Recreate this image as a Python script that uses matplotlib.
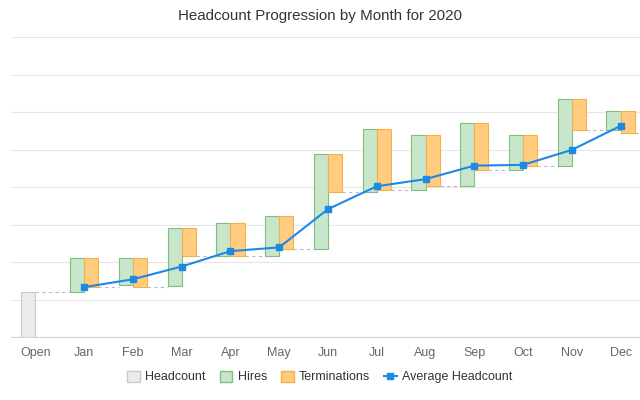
import matplotlib
matplotlib.use("Agg")
import matplotlib.pyplot as plt
from matplotlib.lines import Line2D
from matplotlib.patches import Patch

plt.rcParams['font.family'] = ['Liberation Sans', 'DejaVu Sans']

# data (arbitrary units - the y axis has no labels)
categories = ["Open", "Jan", "Feb", "Mar", "Apr", "May", "Jun",
              "Jul", "Aug", "Sep", "Oct", "Nov", "Dec"]
opening = 12.1
hire_lo = [12.1, 14.0, 13.7, 21.7, 21.7, 23.6, 38.8, 39.2, 40.4, 44.5, 45.6, 55.2]
hire_hi = [21.2, 21.2, 29.0, 30.5, 32.2, 48.8, 55.6, 54.0, 57.0, 53.8, 63.6, 60.4]
term_lo = [13.4, 13.4, 21.7, 21.7, 23.6, 38.8, 39.2, 40.4, 44.5, 45.6, 55.2, 54.3]
avg_hc = [13.3, 15.4, 18.8, 22.9, 23.9, 34.1, 40.2, 42.1, 45.7, 45.9, 49.9, 56.3]

c_head, e_head = "#ebebeb", "#c9c9c9"
c_hire, e_hire = "#c8e6c9", "#7cbf7e"
c_term, e_term = "#ffcc80", "#f5b04a"
c_line = "#1e88e5"

fig = plt.figure(figsize=(6.4, 4.0), dpi=100)
ax = fig.add_axes([11 / 640, 63 / 400, 634 / 640, 300 / 400])

w = 0.29
months = list(range(1, 13))

# opening headcount
ax.bar(-w / 2, opening, width=w, color=c_head, edgecolor=e_head,
       linewidth=0.8, zorder=3)

hire_h = [h - l for h, l in zip(hire_hi, hire_lo)]
term_h = [h - l for h, l in zip(hire_hi, term_lo)]
ax.bar([m - w / 2 for m in months], hire_h, bottom=hire_lo, width=w,
       color=c_hire, edgecolor=e_hire, linewidth=0.8, zorder=3)
ax.bar([m + w / 2 for m in months], term_h, bottom=term_lo, width=w,
       color=c_term, edgecolor=e_term, linewidth=0.8, zorder=3)

# dashed connectors between bars
ends = [opening] + term_lo
for i, y in enumerate(ends):
    x0 = 0 if i == 0 else i + w
    x1 = i + 1 - w if i < 12 else 12.6
    ax.plot([x0, x1], [y, y], color="#bbbbbb", lw=0.8, ls=(0, (3, 3)), zorder=2)

ax.plot(months, avg_hc, color=c_line, lw=1.5, marker="s", ms=5, zorder=5)

ax.set_xlim(-0.5, 12.5)
ax.set_ylim(0, 80)
ax.set_yticks(range(0, 81, 10))
ax.set_yticklabels([])
ax.tick_params(axis="y", length=0)
ax.set_xticks(range(13))
ax.set_xticklabels(categories, color="#666666", fontsize=9)
ax.tick_params(axis="x", length=0, pad=7)
ax.grid(axis="y", color="#e6e6e6", lw=0.8, zorder=0)
ax.set_axisbelow(True)
for s in ["top", "right", "left"]:
    ax.spines[s].set_visible(False)
ax.spines["bottom"].set_color("#ccd6eb")

fig.text(0.5, 1 - 16 / 400, "Headcount Progression by Month for 2020",
         ha="center", va="center", fontsize=10.9, color="#333333")

handles = [Patch(facecolor=c_head, edgecolor=e_head),
           Patch(facecolor=c_hire, edgecolor=e_hire),
           Patch(facecolor=c_term, edgecolor=e_term),
           Line2D([0], [0], color=c_line, lw=1.5, marker="s", ms=5)]
fig.legend(handles, ["Headcount", "Hires", "Terminations", "Average Headcount"],
           loc="center", bbox_to_anchor=(0.5, 1 - 377 / 400), ncol=4,
           frameon=False, fontsize=9, labelcolor="#333333",
           handlelength=1.0, handleheight=1.0, handletextpad=0.45,
           columnspacing=1.1)

fig.savefig("out.png", dpi=100)
